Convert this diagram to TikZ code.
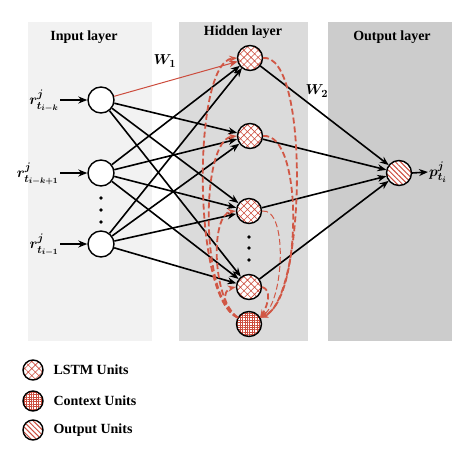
\documentclass[tikz,border=0pt]{standalone}
\usepackage{fontspec}
\setmainfont{Liberation Serif}
\usepackage{amsmath}
\usepackage{bm}
\usetikzlibrary{arrows.meta,patterns.meta}
\definecolor{inputgray}{rgb}{0.95, 0.95, 0.95}
\definecolor{hiddengray}{rgb}{0.86, 0.86, 0.86}
\definecolor{outputgray}{rgb}{0.80, 0.80, 0.80}
\definecolor{hatchred}{rgb}{0.80, 0.30, 0.24}
\definecolor{loopred}{rgb}{0.82, 0.34, 0.27}

\tikzset{
  neuron/.style={circle, draw, line width=1.4pt, minimum size=25pt, inner sep=0pt, preaction={fill=white}},
  inunit/.style={neuron, fill=white, minimum size=26pt},
  lstm/.style={neuron, pattern={Hatch[angle=45, distance=5pt, line width=.6pt]}, pattern color=hatchred},
  context/.style={neuron, pattern={Hatch[angle=0, distance=2.4pt, line width=.5pt]}, pattern color=hatchred},
  outunit/.style={neuron, pattern={Lines[angle=-45, distance=3.6pt, line width=1pt]}, pattern color=hatchred},
  layername/.style={font=\bfseries\fontsize{14}{16}\selectfont},
  legendtext/.style={font=\bfseries\fontsize{14}{16}\selectfont, anchor=west},
  varlabel/.style={font=\fontsize{15.5}{17}\selectfont\boldmath, inner sep=1pt},
  link/.style={line width=1.6pt, -{Stealth[length=9pt, width=7pt]}},
  redlink/.style={hatchred, line width=1pt, -{Stealth[length=9pt, width=7pt]}},
  loop/.style={loopred, line width=1.8pt, dash pattern=on 6pt off 3pt, -{Stealth[length=8pt, width=6pt]}},
  thinloop/.style={loop, line width=1pt}
}

\begin{document}
\begin{tikzpicture}[x=1pt, y=-1pt]
    \useasboundingbox (0,0) rectangle (474,464);

    % layer panels
    \fill [inputgray] (28,22) rectangle (152,341);
    \fill [hiddengray] (179,22) rectangle (308,341);
    \fill [outputgray] (328,22) rectangle (452,341);

    \node [layername] (tin) at (84,37) {Input layer};
    \node [layername] (thid) at (243,32) {Hidden layer};
    \node [layername] (tout) at (392,37) {Output layer};

    % input layer
    \node [inunit] (in1) at (101,100) {};
    \node [inunit] (in2) at (101,173) {};
    \node [inunit] (in3) at (101,244) {};
    \foreach \y in {198,210,222}
      \fill (101,\y) circle (1.8);

    \node [varlabel, anchor=east] (r1) at (60,101) {$r^{j}_{t_{i-k}}$};
    \node [varlabel, anchor=east] (r2) at (60,174) {$r^{j}_{t_{i-k+1}}$};
    \node [varlabel, anchor=east] (r3) at (60,245) {$r^{j}_{t_{i-1}}$};
    \foreach \i in {1,2,3}
      \draw [link] (r\i.east |- in\i) -- (in\i.west);

    % hidden layer
    \node [lstm] (h1) at (250,58) {};
    \node [lstm] (h2) at (250,136) {};
    \node [lstm] (h3) at (249,211) {};
    \node [lstm] (h4) at (249,287) {};
    \node [context] (ctx) at (249,324) {};
    \foreach \y in {237,248,260}
      \fill (249,\y) circle (1.8);

    % output layer
    \node [outunit] (out) at (399,173) {};
    \node [varlabel, anchor=west] (p) at (428,172) {$p^{j}_{t_{i}}$};
    \draw [link] (out.east) -- (p.west);

    % weights
    \foreach \i in {1,2,3}{
      \foreach \j in {1,2,3,4}{
        \ifnum\i\j=11 \else
          \draw [link] (in\i) -- (h\j);
        \fi
      }
    }
    \draw [redlink] (in1) -- (h1);
    \foreach \j in {1,2,3,4}
      \draw [link] (h\j) -- (out);

    \node [varlabel] (w1) at (165,61) {$W_1$};
    \node [varlabel] (w2) at (317,91) {$W_2$};

    % recurrent loops through the context unit
    \draw [loop] (h1.east) .. controls (310,52) and (306,300) .. (ctx.30);
    \draw [loop] (h2.east) .. controls (304,132) and (302,300) .. (ctx.30);
    \draw [thinloop] (h3.east) .. controls (288,208) and (284,300) .. (ctx.30);
    \draw [loop] (h4.east) .. controls (272,290) and (268,305) .. (ctx.30);

    \draw [loop] (ctx.150) .. controls (192,300) and (192,62) .. (h1.west);
    \draw [loop] (ctx.150) .. controls (200,300) and (200,140) .. (h2.west);
    \draw [loop] (ctx.150) .. controls (212,300) and (210,214) .. (h3.west);
    \draw [loop] (ctx.150) .. controls (222,310) and (222,290) .. (h4.west);

    % legend
    \node [lstm, minimum size=20pt] (k1) at (33,370) {};
    \node [context, minimum size=20pt] (k2) at (33,401) {};
    \node [outunit, minimum size=20pt] (k3) at (33,430) {};
    \node [legendtext] (t1) at (50,370) {LSTM Units};
    \node [legendtext] (t2) at (50,401) {Context Units};
    \node [legendtext] (t3) at (50,430) {Output Units};
  \end{tikzpicture}
\end{document}
